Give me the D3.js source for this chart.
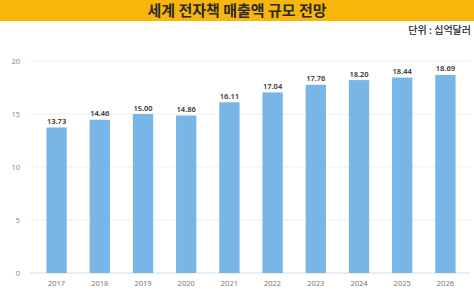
<!DOCTYPE html>
<html>
<head>
<meta charset="utf-8">
<script src="https://cdn.jsdelivr.net/npm/d3@7"></script>
<style>
  body { margin: 0; background: #fff; }
  svg { display: block; }
</style>
</head>
<body>
<script>
// data
const years = ["2017", "2018", "2019", "2020", "2021", "2022", "2023", "2024", "2025", "2026"];
const sales = [13.73, 14.46, 15.00, 14.86, 16.11, 17.04, 17.76, 18.20, 18.44, 18.69];
const yTicks = [0, 5, 10, 15, 20];
const title = "세계 전자책 매출액 규모 전망";
const unitText = "단위 : 십억달러";

const W = 474, H = 294;
const svg = d3.select("body").append("svg")
  .attr("width", W)
  .attr("height", H);

// title band
svg.append("rect")
  .attr("x", 0).attr("y", 0)
  .attr("width", W).attr("height", 21)
  .attr("fill", "#F8B60A");
svg.append("text")
  .attr("x", W / 2).attr("y", 16)
  .attr("text-anchor", "middle")
  .attr("font-family", "Noto Sans CJK KR")
  .attr("font-weight", "bold")
  .attr("font-size", 15)
  .attr("fill", "#2a2a2a")
  .text(title);

svg.append("text")
  .attr("x", 471).attr("y", 34)
  .attr("text-anchor", "end")
  .attr("font-family", "Noto Sans CJK KR")
  .attr("font-weight", 500)
  .attr("font-size", 10)
  .attr("fill", "#222")
  .text(unitText);

const x = d3.scaleBand()
  .domain(years)
  .range([35, 467])
  .paddingInner(0.53)
  .paddingOuter(0.265);

const y = d3.scaleLinear()
  .domain([0, 20])
  .range([273, 61]);

// gridlines
svg.append("g")
  .selectAll("line")
  .data(yTicks)
  .join("line")
  .attr("x1", 30).attr("x2", 470)
  .attr("y1", d => y(d)).attr("y2", d => y(d))
  .attr("stroke", d => d === 0 ? "#d8dde3" : "#eeeeee")
  .attr("stroke-width", 1);

// y labels
svg.append("g")
  .selectAll("text")
  .data(yTicks)
  .join("text")
  .attr("x", 20)
  .attr("y", d => y(d) + 3)
  .attr("text-anchor", "end")
  .attr("font-family", "Noto Sans")
  .attr("font-size", 7.5)
  .attr("fill", "#888")
  .text(d => d);

// bars
svg.append("g")
  .selectAll("rect")
  .data(sales)
  .join("rect")
  .attr("x", (d, i) => x(years[i]))
  .attr("y", d => y(d))
  .attr("width", x.bandwidth())
  .attr("height", d => y(0) - y(d))
  .attr("fill", "#79B6E8");

// value labels
svg.append("g")
  .selectAll("text")
  .data(sales)
  .join("text")
  .attr("x", (d, i) => x(years[i]) + x.bandwidth() / 2)
  .attr("y", d => y(d) - 3.5)
  .attr("text-anchor", "middle")
  .attr("font-family", "Noto Sans")
  .attr("font-size", 7.5)
  .attr("font-weight", 600)
  .attr("fill", "#333")
  .text(d => d.toFixed(2));

// x labels
svg.append("g")
  .selectAll("text")
  .data(years)
  .join("text")
  .attr("x", d => x(d) + x.bandwidth() / 2)
  .attr("y", 286)
  .attr("text-anchor", "middle")
  .attr("font-family", "Noto Sans")
  .attr("font-size", 7.5)
  .attr("fill", "#777")
  .text(d => d);
</script>
</body>
</html>
